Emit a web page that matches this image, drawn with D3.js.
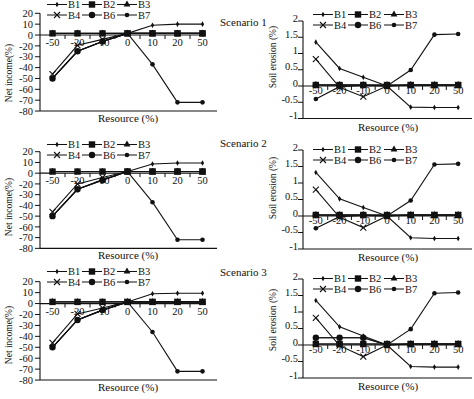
<!DOCTYPE html>
<html><head><meta charset="utf-8">
<script src="https://cdn.jsdelivr.net/npm/d3@7"></script>
<style>
html,body{margin:0;padding:0;background:#fff;}
svg{display:block;font-family:"Liberation Serif","Times New Roman",serif;}
</style></head><body>
<svg id="c" width="474" height="399"></svg>
<script>
// ---------------- data ----------------
const categories = ["-50","-20","-10","0","10","20","50"];
const seriesNames = ["B1","B2","B3","B4","B6","B7"];
const scenarioLabels = ["Scenario 1","Scenario 2","Scenario 3"];
const incomeTickValues = [20,10,0,-20,-30,-40,-50,-60,-70,-80];
const erosionTickValues = [2,1.5,1,0.5,0,-0.5,-1];
const erosionTickLabels = ["2","1.5","1","0.5","0","-0.5","-1"];

// Net income (%) — one row per scenario
const incomeB1 = [[-50,-25,-12,1.5,9,10,10],[-50,-25,-12,1.5,8.5,9.5,9.5],[-50,-25,-12,1.5,9,9.5,9.5]];
const incomeB2 = [[1.5,1.5,1.5,1.5,1.5,1.5,1.5],[1.5,1.5,1.5,1.5,1.5,1.5,1.5],[1.5,1.5,1.5,1.5,1.5,1.5,1.5]];
const incomeB3 = [[1.5,1.5,1.5,1.5,1.5,1.5,1.5],[1.5,1.5,1.5,1.5,1.5,1.5,1.5],[1.5,1.5,1.5,1.5,1.5,1.5,1.5]];
const incomeB4 = [[-46,-19,-8,1.5,1.5,1.5,1.5],[-46,-20,-8,1.5,1.5,1.5,1.5],[-46,-19,-8,1.5,1.5,1.5,1.5]];
const incomeB6 = [[-50,-25,-12,1.5,1.5,1.5,1.5],[-50,-25,-13,1.5,1.5,1.5,1.5],[-50,-25,-12,1.5,1.5,1.5,1.5]];
const incomeB7 = [[-50,-25,-12,1.5,-37,-72,-72],[-50,-25,-13,1.5,-37,-72,-72],[-50,-25,-12,1.5,-36,-72,-72]];

// Soil erosion (%) — one row per scenario
const erosionB1 = [[1.35,0.54,0.27,0,-0.65,-0.66,-0.66],[1.32,0.52,0.26,0,-0.66,-0.68,-0.68],[1.35,0.55,0.27,0,-0.65,-0.67,-0.67]];
const erosionB2 = [[0.03,0.03,0.03,0.03,0.03,0.03,0.03],[0.03,0.03,0.03,0.03,0.03,0.03,0.03],[0.03,0.03,0.03,0.03,0.03,0.03,0.03]];
const erosionB3 = [[0.03,0.03,0.03,0.03,0.03,0.03,0.03],[0.03,0.03,0.03,0.03,0.03,0.03,0.03],[0.03,0.03,0.03,0.03,0.03,0.03,0.03]];
const erosionB4 = [[0.83,-0.04,-0.33,0,0.03,0.03,0.03],[0.8,-0.04,-0.35,0,0.03,0.03,0.03],[0.82,-0.02,-0.35,0,0.03,0.03,0.03]];
const erosionB6 = [[0.03,0.03,0.03,0,0.03,0.03,0.03],[0.03,0.03,0.03,0,0.03,0.03,0.03],[0.22,0.22,0.22,0,0.03,0.03,0.03]];
const erosionB7 = [[-0.4,-0.02,0.02,0,0.49,1.58,1.6],[-0.37,-0.02,0.02,0,0.47,1.56,1.58],[0.22,0.22,0.22,0,0.48,1.57,1.59]];

const incomeSeries = {B1:incomeB1,B2:incomeB2,B3:incomeB3,B4:incomeB4,B6:incomeB6,B7:incomeB7};
const erosionSeries = {B1:erosionB1,B2:erosionB2,B3:erosionB3,B4:erosionB4,B6:erosionB6,B7:erosionB7};

// ---------------- layout ----------------
const svg = d3.select("#c");
const INK = "#111";
const leftX = [40, 215];
const rightX = [304, 470];
const leftTop = [13.3, 151.7, 281.7];
const leftStep = [10.86, 10.74, 10.93];
const rightTop = [21, 150, 279];
const rightBottom = [118.5, 249, 378];
const leftLegendY = [4.5, 144.5, 271.5];
const rightLegendY = [14.5, 149.5, 278.5];
const scenarioY = [22, 143, 272];
const leftTitleY = [73, 207, 335];
const rightTitleY = [57, 188, 320];

function marker(g, name, x, y) {
  if (name === "B1") {
    g.append("path").attr("d", d3.symbol(d3.symbolDiamond, 9)()).attr("transform", `translate(${x},${y})`).attr("fill", INK);
  } else if (name === "B2") {
    g.append("rect").attr("x", x-3.2).attr("y", y-3.2).attr("width", 6.4).attr("height", 6.4).attr("fill", INK);
  } else if (name === "B3") {
    g.append("path").attr("d", d3.symbol(d3.symbolTriangle, 20)()).attr("transform", `translate(${x},${y})`).attr("fill", INK);
  } else if (name === "B4") {
    g.append("path").attr("d", `M${x-3},${y-3}L${x+3},${y+3}M${x-3},${y+3}L${x+3},${y-3}`).attr("stroke", INK).attr("stroke-width", 1.1).attr("fill", "none");
  } else if (name === "B6") {
    g.append("circle").attr("cx", x).attr("cy", y).attr("r", 3.2).attr("fill", INK);
  } else if (name === "B7") {
    g.append("circle").attr("cx", x).attr("cy", y).attr("r", 2.3).attr("fill", INK);
  }
}

function legend(x0s, y, fontSize) {
  const g = svg.append("g");
  [[0,1,2],[3,4,5]].forEach((row, ri) => {
    row.forEach((si, ci) => {
      const name = seriesNames[si];
      const x0 = x0s[ci];
      const yy = y + ri * 10.5;
      g.append("line").attr("x1", x0).attr("x2", x0 + 20).attr("y1", yy).attr("y2", yy).attr("stroke", INK).attr("stroke-width", 1);
      marker(g, name, x0 + 10, yy);
      g.append("text").attr("x", x0 + 21).attr("y", yy).attr("dy", "0.35em").attr("font-size", fontSize).attr("fill", INK).text(name);
    });
  });
}

function panel(opts) {
  const {xr, yScale, yAxisX, tickVals, tickLabs, series, row, yZeroVal, yBottomVal, labelRight, labelMode, xLabelDy, titleX, yTitle, yTitleX, yTitleY, resourceDy} = opts;
  const x = d3.scaleBand().domain(categories).range(xr).paddingInner(0).paddingOuter(0);
  const xc = c => x(c) + x.bandwidth() / 2;
  const g = svg.append("g");
  const y0 = yScale(yZeroVal);
  const yB = yScale(yBottomVal);
  const yT = yScale(tickVals[0]);

  g.append("line").attr("x1", yAxisX).attr("x2", yAxisX).attr("y1", yT).attr("y2", yB).attr("stroke", INK).attr("stroke-width", 1.1);
  tickVals.forEach((v, i) => {
    const yy = yScale(v);
    g.append("line").attr("x1", yAxisX - 5).attr("x2", yAxisX).attr("y1", yy).attr("y2", yy).attr("stroke", INK).attr("stroke-width", 1);
    g.append("text").attr("x", labelRight).attr("y", yy).attr("dy", labelMode === "mid" ? "0.35em" : "0.05em")
      .attr("text-anchor", "end").attr("font-size", 10.5).attr("fill", INK).text(tickLabs[i]);
  });
  g.append("line").attr("x1", yAxisX).attr("x2", xr[1] + 2).attr("y1", yB).attr("y2", yB).attr("stroke", INK).attr("stroke-width", 1.1);
  g.append("line").attr("x1", yAxisX).attr("x2", xc(categories[categories.length - 1]) + 2).attr("y1", y0).attr("y2", y0).attr("stroke", INK).attr("stroke-width", 1.2);
  categories.forEach((c, i) => {
    if (i > 0) {
      g.append("line").attr("x1", x(c)).attr("x2", x(c)).attr("y1", y0).attr("y2", y0 + 4).attr("stroke", INK).attr("stroke-width", 1);
    }
    g.append("text").attr("x", xc(c)).attr("y", y0 + xLabelDy).attr("text-anchor", "middle").attr("font-size", 10.5).attr("fill", INK).text(c);
  });

  const line = d3.line().x((d, i) => xc(categories[i])).y(d => yScale(d));
  seriesNames.forEach(n => {
    g.append("path").attr("d", line(series[n][row])).attr("fill", "none").attr("stroke", INK).attr("stroke-width", 1.1);
  });
  ["B6","B7","B4","B3","B1","B2"].forEach(n => {
    series[n][row].forEach((v, i) => marker(g, n, xc(categories[i]), yScale(v)));
  });

  g.append("text").attr("x", titleX).attr("y", yB + resourceDy).attr("text-anchor", "middle").attr("font-size", 11).attr("fill", INK).text("Resource (%)");
  g.append("text").attr("transform", `translate(${yTitleX},${yTitleY}) rotate(-90)`).attr("text-anchor", "middle").attr("dy", "0.35em").attr("font-size", 9.5).attr("fill", INK).text(yTitle);
}

for (let r = 0; r < 3; r++) {
  const top = leftTop[r], st = leftStep[r];
  const incomeY = d3.scaleLinear().domain([20, 0, -20, -80]).range([top, top + 2 * st, top + 3 * st, top + 9 * st]);
  panel({xr: leftX, yScale: incomeY, yAxisX: 40, tickVals: incomeTickValues, tickLabs: incomeTickValues.map(String),
    series: incomeSeries, row: r, yZeroVal: 0, yBottomVal: -80, labelRight: 33, labelMode: "mid", xLabelDy: 11,
    titleX: 128, yTitle: "Net income(%)", yTitleX: 8.5, yTitleY: leftTitleY[r], resourceDy: 11});

  const erosionY = d3.scaleLinear().domain([2, -1]).range([rightTop[r], rightBottom[r]]);
  panel({xr: rightX, yScale: erosionY, yAxisX: 303, tickVals: erosionTickValues, tickLabs: erosionTickLabels,
    series: erosionSeries, row: r, yZeroVal: 0, yBottomVal: -1, labelRight: 298, labelMode: "base", xLabelDy: 8,
    titleX: 388, yTitle: "Soil erosion (%)", yTitleX: 273, yTitleY: rightTitleY[r], resourceDy: 12});

  legend([47, 82, 117], leftLegendY[r], 10.5);
  legend([313, 348, 384], rightLegendY[r], 10.5);

  svg.append("text").attr("x", 220).attr("y", scenarioY[r]).attr("dy", "0.35em").attr("font-size", 11).attr("fill", INK).text(scenarioLabels[r]);
}
</script>
</body></html>
